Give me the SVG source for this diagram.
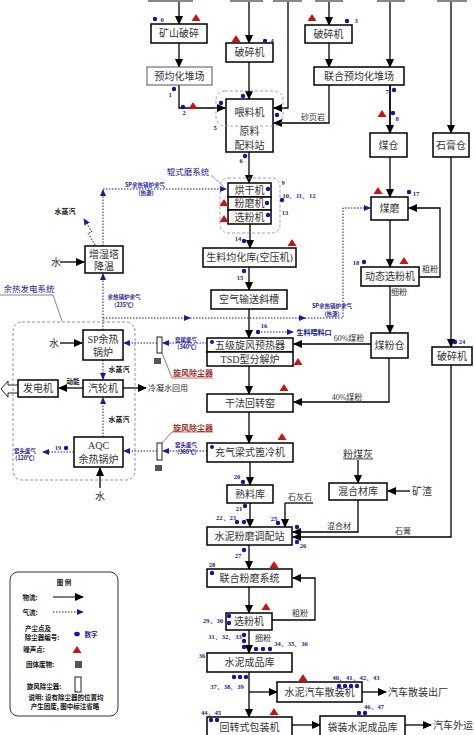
<svg xmlns="http://www.w3.org/2000/svg" xmlns:xlink="http://www.w3.org/1999/xlink" width="474" height="735" viewBox="0 0 474 735">
<style>
.box{fill:#fff;stroke:#000;stroke-width:1.5}
.tbox{fill:#fff;stroke:#555;stroke-width:1}
.t{font-family:"Liberation Serif","Noto Sans CJK SC",serif;font-size:10px;text-anchor:middle;dominant-baseline:central;fill:#333}
.s{font-family:"Liberation Serif","Noto Sans CJK SC",serif;font-size:8px;text-anchor:middle;dominant-baseline:central;fill:#333}
.b{font-family:"Noto Sans CJK SC",sans-serif;font-size:7px;font-weight:bold;text-anchor:middle;dominant-baseline:central;fill:#111}
.bl{font-family:"Noto Sans CJK SC",sans-serif;font-size:5.5px;font-weight:bold;text-anchor:middle;dominant-baseline:central;fill:#1a1a9a}
.n{font-family:"Liberation Serif",serif;font-size:6.5px;font-weight:bold;text-anchor:middle;dominant-baseline:central;fill:#1a1a9a}
.dot{fill:#1414a0}
.flow{stroke:#000;stroke-width:1.3;fill:none;marker-end:url(#ah)}
.line{stroke:#000;stroke-width:1.3;fill:none}
.gas{stroke:#1a1a9a;stroke-width:1;stroke-dasharray:1.5 1.5;fill:none;marker-end:url(#bh)}
.grp{fill:none;stroke:#8890a8;stroke-width:0.8;stroke-dasharray:3 2}
.red{font-family:"Noto Sans CJK SC",sans-serif;font-size:8px;font-weight:bold;text-anchor:middle;dominant-baseline:central;fill:#a0302a}
.blue{font-family:"Noto Sans CJK SC",sans-serif;font-size:8.5px;text-anchor:middle;dominant-baseline:central;fill:#22229a}
.top{fill:#888}
.dust{fill:#fff;stroke:#222;stroke-width:1}
.waste{fill:#555}
</style>
<defs>
<marker id="ah" markerUnits="userSpaceOnUse" markerWidth="9" markerHeight="8" refX="8" refY="4" orient="auto"><path d="M0,0 L9,4 L0,8 z" fill="#000"/></marker>
<marker id="bh" markerUnits="userSpaceOnUse" markerWidth="7" markerHeight="6" refX="6" refY="3" orient="auto"><path d="M0,0 L7,3 L0,6 z" fill="#1a1a9a"/></marker>
<path id="tri" d="M0,-4 L4.5,3 L-4.5,3 Z" fill="#cc1111"/>
</defs>
<rect width="474" height="735" fill="#fff"/>

<g id="top-sources">
<rect class="top" x="148" y="-5" width="45" height="7"/>
<rect class="top" x="230" y="-5" width="33" height="7"/>
<rect class="top" x="273" y="-5" width="29" height="7"/>
<rect class="top" x="315" y="-5" width="28" height="7"/>
<rect class="top" x="377" y="-5" width="28" height="7"/>
<rect class="top" x="437" y="-5" width="30" height="7"/>
</g>

<g id="connectors">
<path class="flow" d="M179,2 V24"/>
<path class="flow" d="M179,43 V67"/>
<path class="flow" d="M179,85 V108 H225"/>
<path class="flow" d="M249,2 V43"/>
<path class="flow" d="M249,62 V99"/>
<path class="flow" d="M288,2 V108 H274"/>
<path class="flow" d="M329,2 V25"/>
<path class="flow" d="M329,43 V67"/>
<path class="flow" d="M329,85 V123 H274"/>
<path class="flow" d="M390,2 V67"/>
<path class="flow" d="M390,85 V133" style="stroke-width:1.8"/>
<path class="flow" d="M451,2 V133"/>
<path class="flow" d="M249,152 V183"/>
<path class="flow" d="M250,224 V248"/>
<path class="flow" d="M249,267 V290"/>
<path class="flow" d="M249,309 V338"/>
<path class="flow" d="M249,366 V394"/>
<path class="flow" d="M249,412 V443"/>
<path class="flow" d="M250,462 V485"/>
<path class="flow" d="M250,503 V527"/>
<path class="line" d="M313,503 H285"/>
<path class="flow" d="M285,503 V527"/>
<path class="flow" d="M390,157 V197"/>
<path class="flow" d="M390,220 V267"/>
<path class="flow" d="M419,277 H440 V208 H409"/>
<path class="flow" d="M390,286 V333"/>
<path class="flow" d="M371,344 H294"/>
<path class="flow" d="M389,358 V402 H294"/>
<path class="flow" d="M451,157 V347"/>
<path class="flow" d="M451,365 V537 H293"/>
<path class="flow" d="M358,460 V483"/>
<path class="flow" d="M410,491 H388"/>
<path class="flow" d="M358,500 V532 H293"/>
<path class="flow" d="M249,545 V569"/>
<path class="flow" d="M249,587 V613"/>
<path class="flow" d="M272,620 H315 V578 H293"/>
<path class="flow" d="M249,630 V653"/>
<path class="flow" d="M249,672 V717"/>
<path class="flow" d="M249,692 H277"/>
<path class="flow" d="M362,692 H386"/>
<path class="flow" d="M292,725 H320"/>
<path class="flow" d="M405,725 H431"/>
<path class="flow" d="M60,262 H84"/>
<path class="flow" d="M60,343 H82"/>
<path class="flow" d="M83,388 H59"/>
<path class="flow" d="M123,388 H146"/>
<path class="flow" d="M100,488 V468"/>
<path d="M18,385 H8 V381 L1,389 L8,397 V393 H18" fill="#fff" stroke="#222" stroke-width="1"/>
<path class="gas" d="M103,246 V190"/>
<path class="gas" d="M103,189 H226"/>
<path class="gas" d="M103,330 V274"/>
<path class="gas" d="M103,318 H190"/>
<path class="gas" d="M190,318 H305"/>
<path class="gas" d="M305,318 H343 V208 H370"/>
<path class="gas" d="M207,343 H163"/>
<path class="gas" d="M157,343 H124"/>
<path class="gas" d="M207,451 H163"/>
<path class="gas" d="M157,451 H124"/>
<path class="gas" d="M74,452 H43"/>
<path class="gas" d="M103,360 V379"/>
<path class="gas" d="M103,437 V398"/>
<path class="gas" d="M258,332 H293"/>
<path class="gas" d="M95,245 L88,233 L92,232 L84,219"/>
</g>

<g id="n-kuangshan"><rect class="box" x="151" y="24" width="56" height="19"/><text class="t" x="179" y="33.5">矿山破碎</text></g>
<g id="n-yujunhua"><rect class="tbox" x="147" y="67" width="65" height="18"/><text class="t" x="179.5" y="76">预均化堆场</text></g>
<g id="n-posuiji1"><rect class="box" x="226" y="43" width="47" height="19"/><text class="t" x="249.5" y="52.5">破碎机</text></g>
<g id="n-posuiji2"><rect class="box" x="305" y="25" width="47" height="18"/><text class="t" x="328.5" y="34">破碎机</text></g>
<g id="n-lianheyujunhua"><rect class="box" x="314" y="67" width="90" height="18"/><text class="t" x="359" y="76">联合预均化堆场</text></g>
<g id="n-weiliaoji">
<rect class="box" x="226" y="99" width="47" height="53"/>
<rect class="grp" x="216" y="91" width="67" height="35" rx="9"/>
<text class="t" x="249.5" y="112">喂料机</text>
<text class="t" x="249.5" y="131">原料</text>
<text class="t" x="249.5" y="145">配料站</text>
</g>
<g id="n-meicang"><rect class="box" x="370" y="133" width="37" height="24"/><text class="t" x="388.5" y="145">煤仓</text></g>
<g id="n-shigaocang"><rect class="box" x="433" y="133" width="36" height="24"/><text class="t" x="451" y="145">石膏仓</text></g>
<g id="n-gunshimo">
<rect class="grp" x="220" y="178" width="60" height="55" rx="8"/>
<rect class="box" x="228" y="183" width="43" height="14"/><text class="t" x="249.5" y="190">烘干机</text>
<rect class="box" x="228" y="197" width="43" height="13"/><text class="t" x="249.5" y="203.5">粉磨机</text>
<rect class="box" x="228" y="210" width="43" height="14"/><text class="t" x="249.5" y="217">选粉机</text>
<text class="blue" x="188" y="171">辊式磨系统</text>
<path d="M211,175 L224,187" stroke="#8890a8" stroke-width="0.8" fill="none"/>
</g>
<g id="n-shengliaojunhua"><rect class="box" x="203" y="248" width="93" height="19"/><text class="t" x="249.5" y="257.5">生料均化库(空压机)</text></g>
<g id="n-kongqishusong"><rect class="box" x="211" y="290" width="76" height="19"/><text class="t" x="249" y="299.5">空气输送斜槽</text></g>
<g id="n-meimo"><rect class="box" x="371" y="197" width="37" height="23"/><text class="t" x="389.5" y="208.5">煤磨</text></g>
<g id="n-dongtai"><rect class="box" x="361" y="267" width="58" height="19"/><text class="t" x="390" y="276.5">动态选粉机</text></g>
<g id="n-meifencang"><rect class="box" x="371" y="333" width="37" height="25"/><text class="t" x="389.5" y="345.5">煤粉仓</text></g>
<g id="n-posuiji3"><rect class="box" x="432" y="347" width="40" height="18"/><text class="t" x="452" y="356">破碎机</text></g>
<g id="n-yureqi">
<rect class="box" x="207" y="338" width="86" height="14"/><text class="t" x="250" y="345">五级旋风预热器</text>
<rect class="box" x="207" y="352" width="86" height="14"/><text class="t" x="250" y="359">TSD型分解炉</text>
</g>
<g id="n-huizhuanyao"><rect class="box" x="207" y="394" width="86" height="18"/><text class="t" x="250" y="403">干法回转窑</text></g>
<g id="n-bilengji"><rect class="box" x="207" y="443" width="86" height="19"/><text class="t" x="250" y="452.5">充气梁式篦冷机</text></g>
<g id="n-shuliaoku"><rect class="box" x="227" y="485" width="46" height="18"/><text class="t" x="250" y="494">熟料库</text></g>
<g id="n-tiaopeizhan"><rect class="box" x="207" y="527" width="85" height="18"/><text class="t" x="249.5" y="536">水泥粉磨调配站</text></g>
<g id="n-hunhecai"><rect class="box" x="329" y="483" width="58" height="17"/><text class="t" x="358" y="491.5">混合材库</text></g>
<g id="n-lianhefenmo"><rect class="box" x="207" y="569" width="85" height="18"/><text class="t" x="249.5" y="578">联合粉磨系统</text></g>
<g id="n-xuanfenji2"><rect class="box" x="226" y="613" width="46" height="17"/><text class="t" x="249" y="621.5">选粉机</text></g>
<g id="n-chengpinku"><rect class="box" x="207" y="653" width="85" height="19"/><text class="t" x="249.5" y="662.5">水泥成品库</text></g>
<g id="n-sanzhuangji"><rect class="box" x="277" y="682" width="85" height="20"/><text class="t" x="319.5" y="692">水泥汽车散装机</text></g>
<g id="n-baozhuangji"><rect class="box" x="207" y="717" width="85" height="22"/><text class="t" x="249.5" y="727">回转式包装机</text></g>
<g id="n-daizhuang"><rect class="box" x="320" y="716" width="85" height="23"/><text class="t" x="362.5" y="727">袋装水泥成品库</text></g>
<g id="n-zengshita"><rect class="box" x="85" y="246" width="38" height="27"/><text class="t" x="104" y="254.5">增湿塔</text><text class="t" x="104" y="266">降温</text></g>
<g id="n-yurefadian">
<rect class="grp" x="13" y="322" width="122" height="158" rx="9" style="stroke:#777"/>
<text class="blue" x="29" y="288">余热发电系统</text>
<path d="M0,295 H53 L62,321" stroke="#666" stroke-width="0.8" fill="none"/>
</g>
<g id="n-spguolu"><rect class="box" x="83" y="330" width="40" height="30"/><text class="t" x="103" y="339">SP余热</text><text class="t" x="103" y="352">锅炉</text></g>
<g id="n-qilunji"><rect class="box" x="83" y="380" width="40" height="17"/><text class="t" x="103" y="388.5">汽轮机</text></g>
<g id="n-fadianji"><rect class="box" x="18" y="380" width="40" height="17"/><text class="t" x="38" y="388.5">发电机</text></g>
<g id="n-aqc"><rect class="box" x="74" y="437" width="49" height="30"/><text class="t" x="98.5" y="445">AQC</text><text class="t" x="98.5" y="459">余热锅炉</text></g>
<g id="n-xuanfeng1">
<rect class="dust" x="157" y="337" width="5" height="16"/><rect class="waste" x="154" y="358" width="7" height="6"/>
<text class="red" x="193" y="372">旋风除尘器</text>
<path d="M213,378 H172 L162,353" stroke="#a0302a" stroke-width="0.7" fill="none"/>
</g>
<g id="n-xuanfeng2">
<rect class="dust" x="157" y="443" width="5" height="17"/><rect class="waste" x="155" y="465" width="7" height="6"/>
<text class="red" x="193" y="427">旋风除尘器</text>
<path d="M213,432 H172 L162,443" stroke="#a0302a" stroke-width="0.7" fill="none"/>
</g>

<g id="labels">
<text class="s" x="313" y="117">砂页岩</text>
<text class="s" x="430" y="269">粗粉</text>
<text class="s" x="399" y="292">细粉</text>
<text class="s" x="349" y="338">60%煤粉</text>
<text class="s" x="347" y="397">40%煤粉</text>
<text class="s" x="300" y="497">石灰石</text>
<text class="t" x="358" y="454">粉煤灰</text>
<path d="M343,459 H373" stroke="#333" stroke-width="0.8"/>
<text class="t" x="422" y="491">矿渣</text>
<text class="s" x="339" y="526">混合材</text>
<text class="s" x="403" y="531">石膏</text>
<text class="s" x="300" y="613">粗粉</text>
<text class="s" x="263" y="638">细粉</text>
<text class="t" x="418" y="692">汽车散装出厂</text>
<text class="t" x="453" y="725">汽车外运</text>
<text class="t" x="56" y="262">水</text>
<text class="t" x="54" y="343">水</text>
<text class="t" x="100" y="496">水</text>
<text class="b" x="65" y="211">水蒸汽</text>
<text class="b" x="119" y="369">水蒸汽</text>
<text class="b" x="119" y="419">水蒸汽</text>
<text class="b" x="73" y="381" style="font-size:6.5px">动能</text>
<text class="s" x="168" y="388">冷凝水回用</text>
<text class="bl" x="145" y="185">SP余热锅炉余气</text>
<text class="bl" x="146" y="193">(热源)</text>
<text class="bl" x="124" y="297">余热锅炉余气</text>
<text class="bl" x="124" y="305">(235℃)</text>
<text class="bl" x="332" y="306">SP余热锅炉余气</text>
<text class="bl" x="332" y="314">(热源)</text>
<text class="bl" x="186" y="340">窑尾废气</text>
<text class="bl" x="187" y="347">(340℃)</text>
<text class="bl" x="186" y="445">窑头废气</text>
<text class="bl" x="187" y="452">(360℃)</text>
<text class="bl" x="25" y="451">窑头废气</text>
<text class="bl" x="25" y="458">(120℃)</text>
<text class="bl" x="314" y="332" style="font-size:7px">生料喂料口</text>
</g>

<g id="dust-points">
<circle class="dot" cx="155" cy="19" r="2.2"/><text class="n" x="162" y="19">0</text>
<circle class="dot" cx="174" cy="89" r="2.2"/><text class="n" x="170" y="94">1</text>
<circle class="dot" cx="183" cy="107" r="2.2"/><text class="n" x="184" y="112">2</text>
<circle class="dot" cx="347" cy="21" r="2.2"/><text class="n" x="356" y="20">3</text>
<circle class="dot" cx="265" cy="41" r="2.2"/><text class="n" x="272" y="40">4</text>
<circle class="dot" cx="221" cy="103" r="2.2"/>
<circle class="dot" cx="243" cy="96" r="2.2"/>
<circle class="dot" cx="277" cy="115" r="2.2"/><text class="n" x="215" y="127">5</text>
<circle class="dot" cx="245" cy="156" r="2.2"/><text class="n" x="241" y="160">6</text>
<circle class="dot" cx="394" cy="90" r="2.2"/><text class="n" x="387" y="91">7</text>
<circle class="dot" cx="393" cy="113" r="2.2"/><text class="n" x="397" y="118">8</text>
<circle class="dot" cx="268" cy="189" r="2.2"/><text class="n" x="283" y="182">9</text>
<circle class="dot" cx="267" cy="203" r="2.2"/>
<circle class="dot" cx="282" cy="200" r="2.2"/><text class="n" x="299" y="195">10、11、12</text>
<circle class="dot" cx="268" cy="215" r="2.2"/><text class="n" x="285" y="212">13</text>
<circle class="dot" cx="244" cy="241" r="2.2"/><text class="n" x="238" y="238">14</text>
<circle class="dot" cx="244" cy="271" r="2.2"/><text class="n" x="240" y="277">15</text>
<circle class="dot" cx="258" cy="332" r="2.2"/><text class="n" x="264" y="325">16</text>
<circle class="dot" cx="409" cy="192" r="2.2"/><text class="n" x="416" y="193">17</text>
<circle class="dot" cx="364" cy="262" r="2.2"/><text class="n" x="356" y="262">18</text>
<circle class="dot" cx="66" cy="448" r="2.2"/><text class="n" x="58" y="447">19</text>
<circle class="dot" cx="212" cy="342" r="2"/>
<circle class="dot" cx="212" cy="447" r="2"/>
<circle class="dot" cx="243" cy="482" r="2.2"/><text class="n" x="237" y="476">20</text>
<circle class="dot" cx="245" cy="506" r="2.2"/><text class="n" x="239" y="508">21</text>
<circle class="dot" cx="237" cy="522" r="2.2"/><circle class="dot" cx="244" cy="522" r="2.2"/><text class="n" x="226" y="517">22、23</text>
<circle class="dot" cx="455" cy="342" r="2.2"/><text class="n" x="462" y="341">24</text>
<circle class="dot" cx="278" cy="523" r="2.2"/><text class="n" x="274" y="518">25</text>
<circle class="dot" cx="297" cy="527" r="2.2"/><circle class="dot" cx="297" cy="542" r="2.2"/><text class="n" x="303" y="545">26</text>
<circle class="dot" cx="244" cy="550" r="2.2"/><text class="n" x="238" y="555">27</text>
<circle class="dot" cx="212" cy="573" r="2.2"/><text class="n" x="212" y="564">28</text>
<circle class="dot" cx="229" cy="616" r="2.2"/><circle class="dot" cx="229" cy="623" r="2.2"/><text class="n" x="213" y="620">29、30</text>
<circle class="dot" cx="244" cy="635" r="2.2"/><circle class="dot" cx="244" cy="641" r="2.2"/><circle class="dot" cx="244" cy="647" r="2.2"/><text class="n" x="225" y="636">31、32、33</text>
<circle class="dot" cx="256" cy="649" r="2.2"/><circle class="dot" cx="263" cy="649" r="2.2"/><circle class="dot" cx="270" cy="649" r="2.2"/><text class="n" x="291" y="643">34、35、36</text>
<text class="n" x="202" y="655">36</text>
<circle class="dot" cx="234" cy="677" r="2.2"/><circle class="dot" cx="240" cy="677" r="2.2"/><circle class="dot" cx="246" cy="677" r="2.2"/><text class="n" x="227" y="686">37、38、39</text>
<circle class="dot" cx="339" cy="686" r="2.2"/><circle class="dot" cx="345" cy="686" r="2.2"/><circle class="dot" cx="351" cy="686" r="2.2"/><circle class="dot" cx="357" cy="686" r="2.2"/><text class="n" x="356" y="677">40、41、42、43</text>
<circle class="dot" cx="211" cy="720" r="2.2"/><circle class="dot" cx="217" cy="720" r="2.2"/><text class="n" x="211" y="712">44、45</text>
<circle class="dot" cx="359" cy="713" r="2.2"/><circle class="dot" cx="365" cy="713" r="2.2"/><text class="n" x="374" y="706">46、47</text>
</g>

<g id="noise-points">
<use xlink:href="#tri" x="196" y="18"/>
<use xlink:href="#tri" x="193" y="106"/>
<use xlink:href="#tri" x="236" y="39"/>
<use xlink:href="#tri" x="312" y="18"/>
<use xlink:href="#tri" x="382" y="114"/>
<use xlink:href="#tri" x="224" y="203"/>
<use xlink:href="#tri" x="224" y="219"/>
<use xlink:href="#tri" x="292" y="243"/>
<use xlink:href="#tri" x="378" y="191"/>
<use xlink:href="#tri" x="404" y="261"/>
<use xlink:href="#tri" x="298" y="362"/>
<use xlink:href="#tri" x="284" y="388"/>
<use xlink:href="#tri" x="282" y="437"/>
<use xlink:href="#tri" x="274" y="565"/>
<use xlink:href="#tri" x="266" y="607"/>
<use xlink:href="#tri" x="303" y="678"/>
<use xlink:href="#tri" x="274" y="712"/>
</g>

<g id="legend">
<rect x="10" y="572" width="108" height="144" rx="8" fill="#fff" stroke="#333" stroke-width="1"/>
<text class="b" x="64" y="582" style="font-size:6.5px">图 例</text>
<text class="b" x="30" y="597" style="font-size:6.5px">物流:</text>
<path class="flow" d="M53,597 H83" style="stroke-width:1"/>
<text class="b" x="30" y="612" style="font-size:6.5px">气流:</text>
<path class="gas" d="M53,612 H83"/>
<text class="b" x="38" y="628" style="font-size:6.5px">产尘点及</text>
<text class="b" x="42" y="637" style="font-size:6.5px">除尘器编号:</text>
<ellipse class="dot" cx="77" cy="634" rx="2.8" ry="2.3"/>
<text class="b" x="91" y="634" style="font-size:6.5px;fill:#22229a">数字</text>
<text class="b" x="34" y="649" style="font-size:6.5px">噪声点:</text>
<use xlink:href="#tri" x="77" y="650"/>
<text class="b" x="40" y="664" style="font-size:6.5px">固体废物:</text>
<rect class="waste" x="75" y="661" width="7" height="7"/>
<text class="b" x="44" y="686" style="font-size:6.5px">旋风除尘器:</text>
<rect class="dust" x="75" y="677" width="6" height="15"/>
<text class="b" x="66" y="697" style="font-size:6.5px">说明: 设有除尘器的位置均</text>
<text class="b" x="65" y="706" style="font-size:6.5px">产生固废, 图中标注省略</text>
</g>
</svg>
